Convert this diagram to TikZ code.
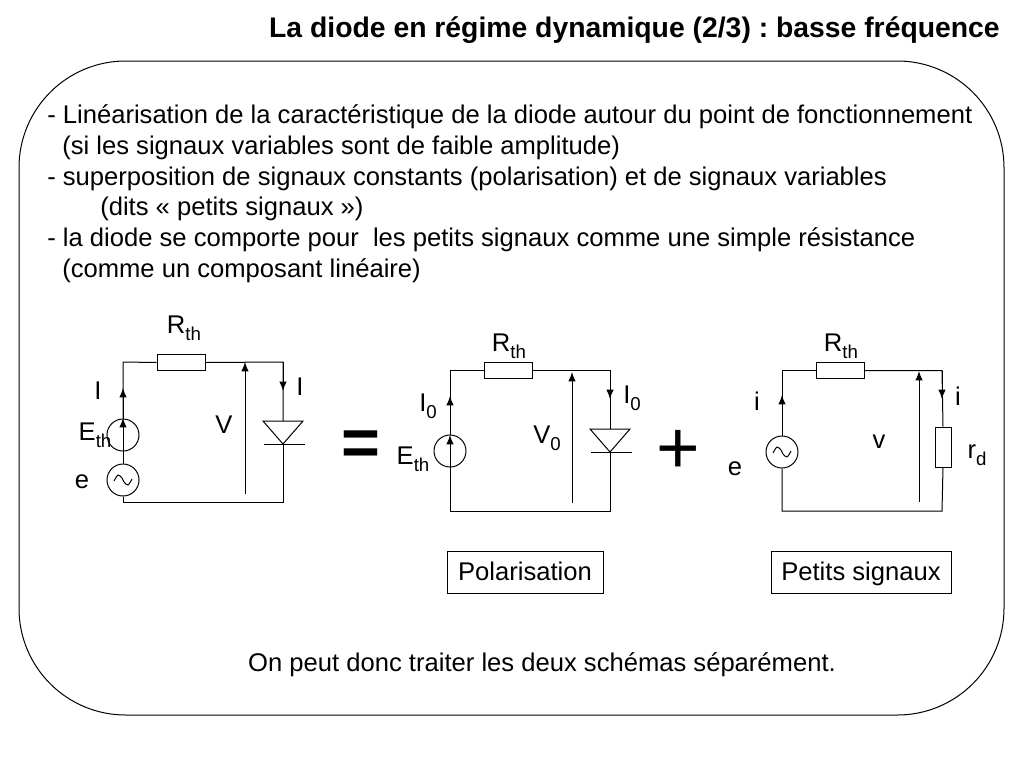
\documentclass[tikz,border=0pt]{standalone}
\usepackage{fontspec}
\setmainfont{Liberation Sans}
\usetikzlibrary{calc,arrows.meta}
\frenchspacing
\newcommand{\lowtext}[1]{\raisebox{-0.55ex}{\fontsize{14}{14}\selectfont #1}}
\tikzset{
  wire/.style={line width=0.75pt},
  lbl/.style={inner sep=0pt,font=\fontsize{19.2}{21}\selectfont},
  line/.style={inner sep=0pt,anchor=base west,font=\fontsize{19.2}{21}\selectfont},
  resistor/.style={draw,wire,fill=white,inner sep=0pt,minimum width=36pt,minimum height=12.5pt},
  vresistor/.style={draw,wire,fill=white,inner sep=0pt,minimum width=12pt,minimum height=30pt},
  source/.style={draw,wire,circle,fill=white,inner sep=0pt,minimum size=24pt},
  tagbox/.style={draw,wire,inner sep=0pt,font=\fontsize{19.2}{21}\selectfont,text height=16pt,text depth=4pt,minimum height=31.5pt},
}
% sine inside an AC source
\newcommand{\acsine}[1]{
  \draw[wire,smooth] plot coordinates {
    ($(#1)+(-9,1)$) ($(#1)+(-5,-5)$) ($(#1)+(-1,-2)$) ($(#1)+(1,2)$) ($(#1)+(5,5)$) ($(#1)+(9,-1)$)
  };
}
% diode: #1 name, #2 wire x, #3 top y
\newcommand{\diode}[3]{
  \coordinate (#1top) at (#2,#3);
  \coordinate (#1end) at (#2,#3+23);
  \draw[wire] (#2-20,#3) -- (#2+20,#3) -- (#1end) -- cycle;
  \draw[wire] (#2-19,#3+23) -- (#2+22,#3+23);
}
\begin{document}
\begin{tikzpicture}[x=0.75pt,y=-0.75pt,>={Latex[length=7pt,width=5.5pt]}]
  \useasboundingbox (0,0) rectangle (1024,768);

  % Title and frame
  \node[anchor=base east,inner sep=0pt,font=\fontsize{21.25}{23}\selectfont\bfseries] (title) at (1000,37) {La diode en régime dynamique (2/3) : basse fréquence};
  \draw[wire,rounded corners=80pt] (19,61) rectangle (1004,715);

  % Text lines
  \node[line] (txta) at (47,123) {- Linéarisation de la caractéristique de la diode autour du point de fonctionnement};
  \node[line] (txtb) at (62,154) {(si les signaux variables sont de faible amplitude)};
  \node[line] (txtc) at (47,185) {- superposition de signaux constants (polarisation) et de signaux variables};
  \node[line] (txtd) at (100,215) {(dits « petits signaux »)};
  \node[line] (txte) at (47,246) {- la diode se comporte pour\ \ les petits signaux comme une simple résistance};
  \node[line] (txtf) at (62,277) {(comme un composant linéaire)};

  % Full circuit
  \coordinate (atl) at (123,362);
  \coordinate (atr) at (283,362);
  \coordinate (abl) at (123,502);
  \coordinate (abr) at (283,502);
  \coordinate (avb) at (245,494);
  \coordinate (avt) at (245,362);
  \node[source] (aeth) at (123,435) {};
  \node[source] (ae) at (123,480) {};
  \node[resistor] (ar) at (181,362.5) {};
  \diode{ad}{283}{421}
  \draw[wire] (ae.south) |- (abr) -- (adend);
  \draw[wire] (ae.north) -- (aeth.south);
  \draw[wire] (aeth.north) -- (atl) -- (ar.west);
  \draw[wire] (ar.east) -- (atr) -- (adtop);
  \draw[wire,->] (aeth.south) -- (123,418);
  \draw[wire,->] (aeth.north) -- (123,388);
  \draw[wire,->] (atr) -- (283,391);
  \draw[wire,->] (avb) -- (avt);
  \acsine{ae}
  \node[lbl] (arl) at (184,328) {R\lowtext{th}};
  \node[lbl] (ail) at (98,391) {I};
  \node[lbl] (air) at (300,387) {I};
  \node[lbl] (avl) at (224,425) {V};
  \node[lbl] (aethl) at (95,435) {E\lowtext{th}};
  \node[lbl] (ael) at (82,482) {e};

  % Polarisation circuit
  \coordinate (btl) at (450,370.5);
  \coordinate (btr) at (610,370.5);
  \coordinate (bbl) at (450,511);
  \coordinate (bbr) at (610,511);
  \coordinate (bvb) at (572,503);
  \coordinate (bvt) at (572,372);
  \node[source] (beth) at (450,451) {};
  \node[resistor] (br) at (508,370.5) {};
  \diode{bd}{610}{429}
  \draw[wire] (beth.south) |- (bbr) -- (bdend);
  \draw[wire] (beth.north) -- (btl) -- (br.west);
  \draw[wire] (br.east) -- (btr) -- (bdtop);
  \draw[wire,->] (beth.south) -- (450,435);
  \draw[wire,->] (beth.north) -- (450,396);
  \draw[wire,->] (btr) -- (610,399);
  \draw[wire,->] (bvb) -- (bvt);
  \node[lbl] (brl) at (509,346) {R\lowtext{th}};
  \node[lbl] (bil) at (428,406) {I\lowtext{0}};
  \node[lbl] (bir) at (632,398) {I\lowtext{0}};
  \node[lbl] (bvl) at (547,438) {V\lowtext{0}};
  \node[lbl] (bethl) at (413,459) {E\lowtext{th}};

  % Small-signal circuit
  \coordinate (ctl) at (782,370.5);
  \coordinate (ctr) at (942,370.5);
  \coordinate (cbl) at (782,511);
  \coordinate (cbr) at (942,511);
  \coordinate (cvb) at (919,502);
  \coordinate (cvt) at (919,371);
  \node[source] (ce) at (782,452) {};
  \node[resistor] (cr) at (840,370.5) {};
  \node[vresistor] (crd) at (943,447) {};
  \draw[wire] (ce.south) |- (cbr) -- (crd.south);
  \draw[wire] (ce.north) -- (ctl) -- (cr.west);
  \draw[wire] (cr.east) -- (ctr) -- (crd.north);
  \draw[wire,->] (ce.north) -- (782,395);
  \draw[wire,->] (ctr) -- (942,399);
  \draw[wire,->] (cvb) -- (cvt);
  \acsine{ce}
  \node[lbl] (crl) at (841,346) {R\lowtext{th}};
  \node[lbl] (cil) at (757,401) {i};
  \node[lbl] (cir) at (958,396) {i};
  \node[lbl] (cvl) at (879,442) {v};
  \node[lbl] (cel) at (735,469) {e};
  \node[lbl] (crdl) at (977,455) {r\lowtext{d}};

  % Signs between circuits
  \node[inner sep=0pt,font=\fontsize{50}{50}\selectfont\bfseries] (eq) at (360.5,448) {=};
  \node[inner sep=0pt,font=\fontsize{56}{56}\selectfont] (plus) at (678,452) {+};

  % Captions
  \node[tagbox,minimum width=117pt] (pol) at (525,572) {Polarisation};
  \node[tagbox,minimum width=135pt] (pet) at (861,572) {Petits signaux};
  \node[lbl] (concl) at (542,665) {On peut donc traiter les deux schémas séparément.};
\end{tikzpicture}
\end{document}
